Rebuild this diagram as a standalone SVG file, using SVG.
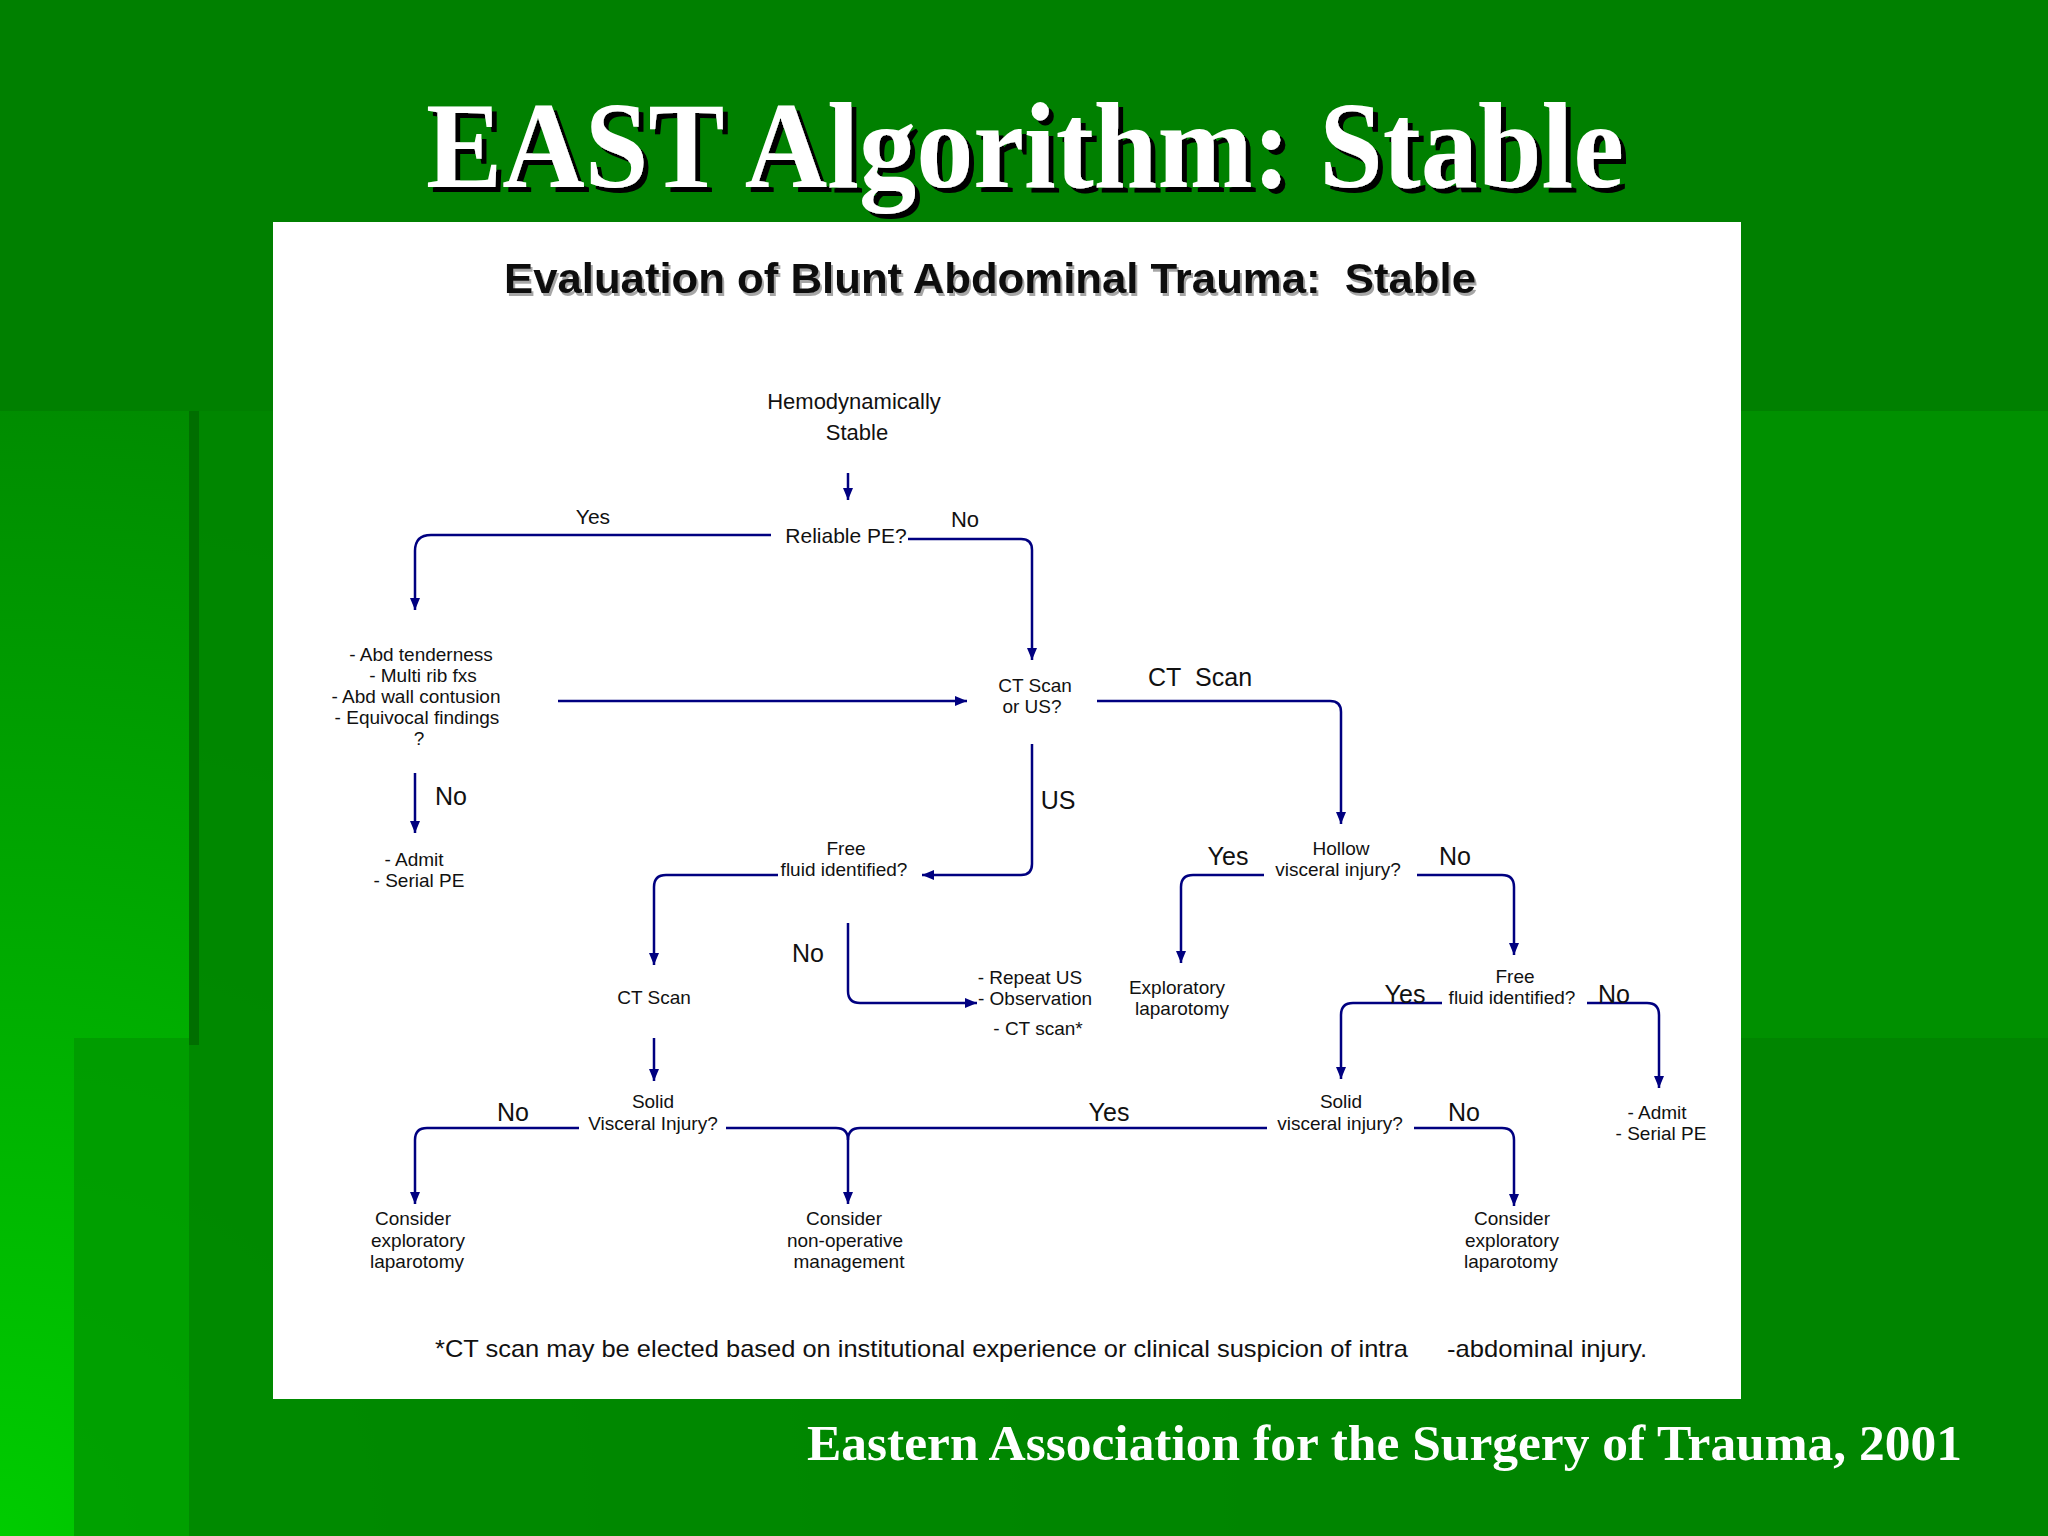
<svg xmlns="http://www.w3.org/2000/svg" width="2048" height="1536" viewBox="0 0 2048 1536">
<defs>
<radialGradient id="bg" cx="0" cy="1536" r="1700" gradientUnits="userSpaceOnUse">
<stop offset="0" stop-color="#00cc00"/>
<stop offset="0.75" stop-color="#008400"/>
<stop offset="1" stop-color="#008000"/>
</radialGradient>
<filter id="shadow" x="-5%" y="-20%" width="110%" height="140%">
<feOffset in="SourceAlpha" dx="5" dy="5" result="o"/>
<feMerge><feMergeNode in="o"/><feMergeNode in="SourceGraphic"/></feMerge>
</filter>
<filter id="gshadow" x="-5%" y="-20%" width="110%" height="140%">
<feOffset in="SourceAlpha" dx="2" dy="3" result="o"/>
<feComponentTransfer in="o" result="g"><feFuncA type="linear" slope="0.35"/></feComponentTransfer>
<feMerge><feMergeNode in="g"/><feMergeNode in="SourceGraphic"/></feMerge>
</filter>
<marker id="ah" markerUnits="userSpaceOnUse" markerWidth="12" markerHeight="10" refX="12" refY="5" orient="auto">
<path d="M0,0 L12,5 L0,10 z" fill="#000080"/>
</marker>
<style>
.c{fill:none;stroke:#000080;stroke-width:2.5;marker-end:url(#ah)}
.cn{fill:none;stroke:#000080;stroke-width:2.5}
.t{font-family:"Liberation Sans",Arial,sans-serif;font-size:19px;fill:#111;text-anchor:middle}
.l{font-family:"Liberation Sans",Arial,sans-serif;font-size:25px;fill:#111;text-anchor:middle}
.m{font-family:"Liberation Sans",Arial,sans-serif;font-size:22px;fill:#111;text-anchor:middle}
</style>
</defs>
<g id="background">
<rect x="0" y="0" width="2048" height="1536" fill="url(#bg)"/>
<rect x="0" y="0" width="2048" height="411" fill="#008000"/>
<rect x="189" y="411" width="1859" height="1125" fill="#008600" opacity="0.92"/>
<rect x="74" y="1038" width="115" height="498" fill="#009a00" opacity="0.85"/>
<rect x="1741" y="411" width="307" height="627" fill="#009000"/>
<rect x="189" y="411" width="10" height="634" fill="#006e00"/>
</g>
<g id="title">
<text x="1025" y="187" font-family="'Liberation Serif','Times New Roman',serif" font-weight="bold" font-size="122" fill="#fff" text-anchor="middle" textLength="1198" lengthAdjust="spacingAndGlyphs" filter="url(#shadow)">EAST Algorithm: Stable</text>
</g>
<g id="panel">
<rect x="273" y="222" width="1468" height="1177" fill="#ffffff"/>
<text x="990" y="293" font-family="'Liberation Sans',Arial,sans-serif" font-weight="bold" font-size="42" fill="#111" text-anchor="middle" textLength="972" lengthAdjust="spacingAndGlyphs" filter="url(#gshadow)">Evaluation of Blunt Abdominal Trauma:&#160; Stable</text>
</g>
<g id="connectors">
<path class="c" d="M848,473 V500"/>
<path class="c" d="M771,535 H431 Q415,535 415,551 V610"/>
<path class="c" d="M908,539 H1021 Q1032,539 1032,550 V660"/>
<path class="c" d="M558,701 H967"/>
<path class="c" d="M1097,701 H1330 Q1341,701 1341,712 V824"/>
<path class="c" d="M1032,744 V864 Q1032,875 1021,875 H922"/>
<path class="c" d="M415,773 V833"/>
<path class="c" d="M778,875 H666 Q654,875 654,887 V965"/>
<path class="c" d="M654,1038 V1081"/>
<path class="c" d="M848,923 V991 Q848,1003 860,1003 H977"/>
<path class="c" d="M1264,875 H1193 Q1181,875 1181,887 V963"/>
<path class="c" d="M1417,875 H1502 Q1514,875 1514,887 V955"/>
<path class="c" d="M1442,1003 H1353 Q1341,1003 1341,1015 V1079"/>
<path class="c" d="M1587,1003 H1647 Q1659,1003 1659,1015 V1088"/>
<path class="c" d="M1414,1128 H1502 Q1514,1128 1514,1140 V1206"/>
<path class="c" d="M579,1128 H427 Q415,1128 415,1140 V1204"/>
<path class="c" d="M726,1128 H836 Q848,1128 848,1140 V1204"/>
<path class="cn" d="M1267,1128 H860 Q848,1128 848,1140"/>
</g>
<g id="edge-labels">
<text class="t" x="593" y="524" style="font-size:21px">Yes</text>
<text class="m" x="965" y="527">No</text>
<text class="l" x="1200" y="686">CT&#160; Scan</text>
<text class="l" x="1058" y="809">US</text>
<text class="l" x="451" y="805">No</text>
<text class="l" x="808" y="962">No</text>
<text class="l" x="1228" y="865">Yes</text>
<text class="l" x="1455" y="865">No</text>
<text class="l" x="1405" y="1003">Yes</text>
<text class="l" x="1614" y="1003">No</text>
<text class="l" x="513" y="1121">No</text>
<text class="l" x="1109" y="1121">Yes</text>
<text class="l" x="1464" y="1121">No</text>
</g>
<g id="n-hemo">
<text class="m" x="854" y="409">Hemodynamically</text>
<text class="m" x="857" y="440">Stable</text>
</g>
<g id="n-reliable">
<text class="t" x="846" y="543" style="font-size:21px">Reliable PE?</text>
</g>
<g id="n-findings">
<text class="t" x="421" y="661">- Abd tenderness</text>
<text class="t" x="423" y="682">- Multi rib fxs</text>
<text class="t" x="416" y="703">- Abd wall contusion</text>
<text class="t" x="417" y="724">- Equivocal findings</text>
<text class="t" x="419" y="745">?</text>
</g>
<g id="n-ctus">
<text class="t" x="1035" y="692">CT Scan</text>
<text class="t" x="1032" y="713">or US?</text>
</g>
<g id="n-admit1">
<text class="t" x="414" y="866">- Admit</text>
<text class="t" x="419" y="887">- Serial PE</text>
</g>
<g id="n-free1">
<text class="t" x="846" y="855">Free</text>
<text class="t" x="844" y="876">fluid identified?</text>
</g>
<g id="n-ct">
<text class="t" x="654" y="1004">CT Scan</text>
</g>
<g id="n-repeat">
<text class="t" x="1030" y="984">- Repeat US</text>
<text class="t" x="1035" y="1005">- Observation</text>
<text class="t" x="1038" y="1035">- CT scan*</text>
</g>
<g id="n-hollow">
<text class="t" x="1341" y="855">Hollow</text>
<text class="t" x="1338" y="876">visceral injury?</text>
</g>
<g id="n-explap">
<text class="t" x="1177" y="994">Exploratory</text>
<text class="t" x="1182" y="1015">laparotomy</text>
</g>
<g id="n-free2">
<text class="t" x="1515" y="983">Free</text>
<text class="t" x="1512" y="1004">fluid identified?</text>
</g>
<g id="n-admit2">
<text class="t" x="1657" y="1119">- Admit</text>
<text class="t" x="1661" y="1140">- Serial PE</text>
</g>
<g id="n-solid1">
<text class="t" x="653" y="1108">Solid</text>
<text class="t" x="653" y="1130">Visceral Injury?</text>
</g>
<g id="n-solid2">
<text class="t" x="1341" y="1108">Solid</text>
<text class="t" x="1340" y="1130">visceral injury?</text>
</g>
<g id="n-consider1">
<text class="t" x="413" y="1225">Consider</text>
<text class="t" x="418" y="1247">exploratory</text>
<text class="t" x="417" y="1268">laparotomy</text>
</g>
<g id="n-nonop">
<text class="t" x="844" y="1225">Consider</text>
<text class="t" x="845" y="1247">non-operative</text>
<text class="t" x="849" y="1268">management</text>
</g>
<g id="n-consider2">
<text class="t" x="1512" y="1225">Consider</text>
<text class="t" x="1512" y="1247">exploratory</text>
<text class="t" x="1511" y="1268">laparotomy</text>
</g>
<g id="footnote">
<text x="435" y="1357" font-family="'Liberation Sans',Arial,sans-serif" font-size="24" fill="#111" textLength="973" lengthAdjust="spacingAndGlyphs">*CT scan may be elected based on institutional experience or clinical suspicion of intra</text>
<text x="1447" y="1357" font-family="'Liberation Sans',Arial,sans-serif" font-size="24" fill="#111" textLength="200" lengthAdjust="spacingAndGlyphs">-abdominal injury.</text>
</g>
<g id="credit">
<text x="1962" y="1460" font-family="'Liberation Serif','Times New Roman',serif" font-weight="bold" font-size="50" fill="#fff" text-anchor="end" textLength="1155" lengthAdjust="spacingAndGlyphs">Eastern Association for the Surgery of Trauma, 2001</text>
</g>
</svg>
